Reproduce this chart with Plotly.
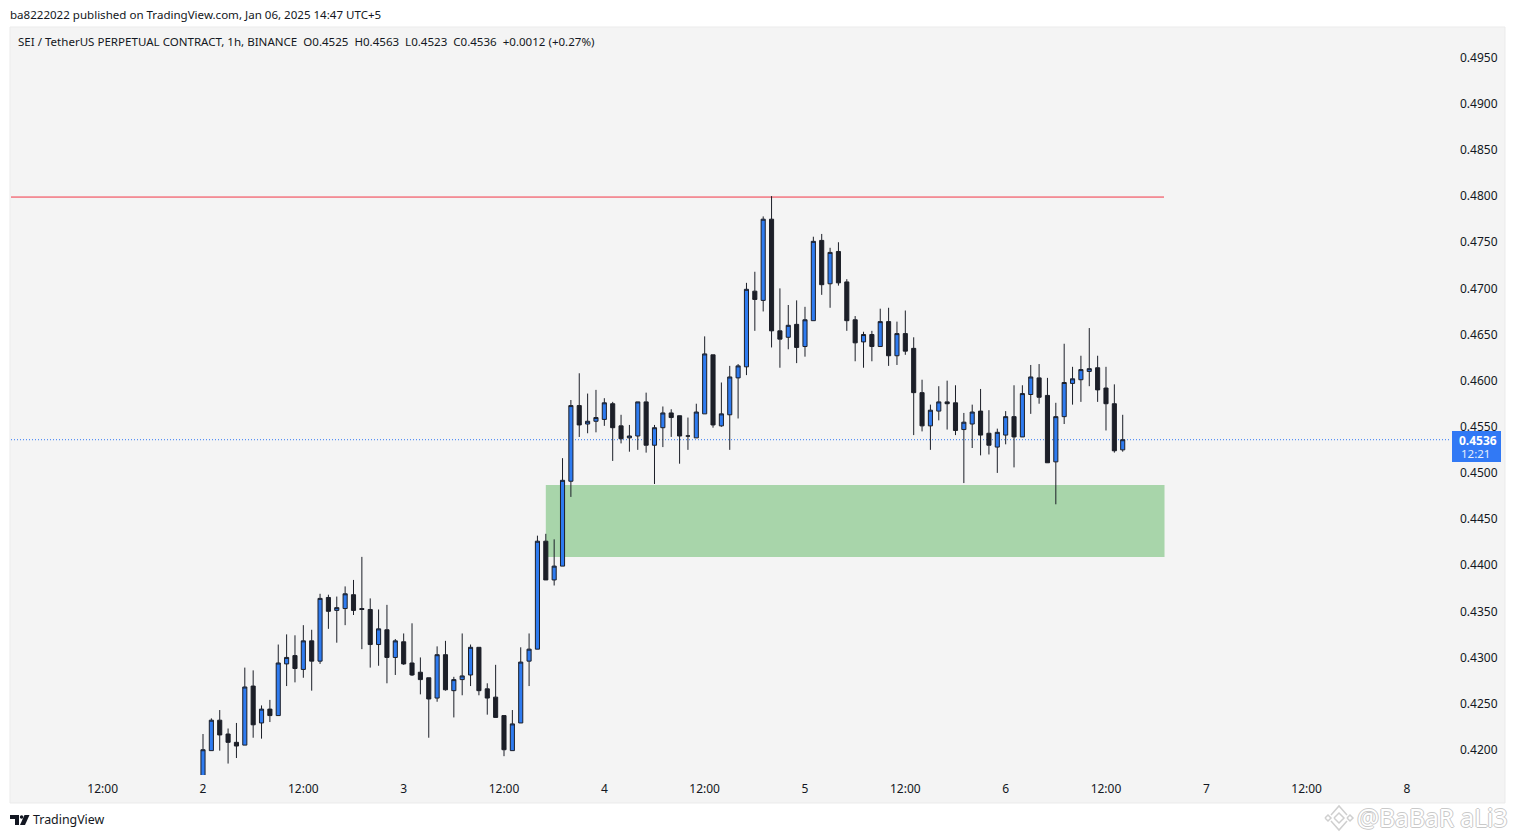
import pandas as pd
import plotly.graph_objects as go

# hourly candles, first one is Jan 2 00:00
opens = [.4172, .4199, .4232, .4217, .4208, .4205, .4269, .4229, .4244, .4237,
         .4293, .4302, .4287, .4318, .4296, .4365, .4351, .4353, .4368, .4353,
         .4352, .4314, .4330, .4300, .4317, .4294, .4284, .4278, .4256, .4303,
         .4264, .4276, .4281, .4311, .4266, .4257, .4237, .4199, .4229, .4296,
         .4309, .4426, .4384, .4399, .4491, .4573, .4553, .4556, .4558, .4575,
         .4551, .4538, .4540, .4577, .4530, .4549, .4565, .4562, .4540, .4538,
         .4564, .4628, .4551, .4563, .4603, .4615, .4697, .4687, .4775, .4654,
         .4647, .4661, .4637, .4665, .4752, .4705, .4740, .4707, .4666, .4642,
         .4650, .4637, .4664, .4627, .4651, .4635, .4587, .4551, .4567, .4577,
         .4576, .4547, .4553, .4567, .4543, .4528, .4541, .4561, .4539, .4585,
         .4603, .4584, .4512, .4561, .4597, .4601, .4610, .4614, .4592, .4575,
         .4525]
highs = [.4217, .4234, .4243, .4223, .4229, .4289, .4286, .4248, .4254, .4314,
         .4325, .4324, .4335, .4330, .4369, .4368, .4366, .4377, .4384, .4409,
         .4364, .4352, .4357, .4320, .4326, .4337, .4300, .4278, .4312, .4318,
         .4279, .4326, .4314, .4311, .4272, .4292, .4237, .4243, .4311, .4326,
         .4432, .4434, .4428, .4516, .4579, .4608, .4586, .4590, .4581, .4577,
         .4563, .4552, .4577, .4587, .4552, .4572, .4569, .4562, .4560, .4575,
         .4648, .4628, .4598, .4616, .4618, .4706, .4718, .4778, .4800, .4700,
         .4682, .4687, .4680, .4756, .4759, .4744, .4750, .4710, .4670, .4653,
         .4654, .4678, .4679, .4664, .4676, .4647, .4601, .4574, .4594, .4600,
         .4595, .4565, .4574, .4591, .4568, .4548, .4567, .4595, .4595, .4617,
         .4618, .4603, .4576, .4640, .4615, .4627, .4657, .4627, .4615, .4596,
         .4563]
lows = [.4165, .4199, .4199, .4185, .4191, .4205, .4213, .4212, .4230, .4237,
        .4269, .4273, .4278, .4264, .4293, .4331, .4316, .4335, .4346, .4309,
        .4289, .4291, .4272, .4281, .4292, .4280, .4260, .4213, .4252, .4264,
        .4235, .4259, .4269, .4259, .4238, .4235, .4193, .4199, .4229, .4269,
        .4309, .4384, .4378, .4399, .4474, .4539, .4543, .4544, .4551, .4513,
        .4532, .4523, .4525, .4522, .4488, .4528, .4539, .4510, .4525, .4538,
        .4564, .4549, .4550, .4525, .4559, .4606, .4654, .4675, .4636, .4614,
        .4634, .4619, .4626, .4665, .4693, .4679, .4703, .4654, .4621, .4614,
        .4621, .4637, .4616, .4617, .4628, .4541, .4545, .4525, .4557, .4547,
        .4541, .4489, .4527, .4519, .4520, .4500, .4531, .4506, .4539, .4564,
        .4575, .4511, .4466, .4553, .4574, .4577, .4594, .4577, .4546, .4522,
        .4523]
closes = [.4200, .4232, .4216, .4208, .4204, .4268, .4227, .4244, .4237, .4294,
          .4300, .4288, .4318, .4296, .4364, .4350, .4354, .4369, .4351, .4352,
          .4314, .4331, .4300, .4318, .4293, .4281, .4276, .4255, .4303, .4265,
          .4276, .4280, .4311, .4264, .4256, .4235, .4200, .4228, .4295, .4309,
          .4426, .4384, .4399, .4492, .4573, .4552, .4556, .4560, .4576, .4549,
          .4537, .4540, .4577, .4530, .4549, .4565, .4560, .4540, .4540, .4566,
          .4629, .4552, .4564, .4604, .4616, .4699, .4688, .4775, .4654, .4645,
          .4660, .4636, .4666, .4751, .4704, .4739, .4706, .4665, .4641, .4650,
          .4637, .4664, .4627, .4651, .4632, .4587, .4551, .4568, .4577, .4575,
          .4546, .4555, .4566, .4541, .4530, .4544, .4561, .4539, .4586, .4604,
          .4582, .4511, .4561, .4598, .4602, .4612, .4613, .4590, .4575, .4524,
          .4536]
times = pd.date_range("2025-01-02 00:00", periods=len(opens), freq="h")

price_ticks = [.42, .425, .43, .435, .44, .445, .45, .455, .46, .465, .47, .475, .48, .485, .49, .495]
time_ticks = ["2025-01-01 12:00", "2025-01-02 00:00", "2025-01-02 12:00", "2025-01-03 00:00",
              "2025-01-03 12:00", "2025-01-04 00:00", "2025-01-04 12:00", "2025-01-05 00:00",
              "2025-01-05 12:00", "2025-01-06 00:00", "2025-01-06 12:00", "2025-01-07 00:00",
              "2025-01-07 12:00", "2025-01-08 00:00"]
time_labels = ["12:00", "2", "12:00", "3", "12:00", "4", "12:00", "5",
               "12:00", "6", "12:00", "7", "12:00", "8"]

last_price = .4536
resistance = .4799
zone_top = .4487
zone_bottom = .4409
zone_start = "2025-01-03 17:00"
zone_end = "2025-01-06 19:00"

WIDTH, HEIGHT = 1515, 838
LEFT, RIGHT, TOP, BOTTOM = 11, 1451, 27, 775
FONT = "Noto Sans"
INK = "#131722"
CANDLE_LINE = "#1c1f28"
BLUE = "#2e7bf0"


def px(x):
    return (x - LEFT) / (RIGHT - LEFT)


def py(y):
    return (BOTTOM - y) / (BOTTOM - TOP)


def poly(points):
    return "M" + " L".join(f"{px(x)},{py(y)}" for x, y in points) + " Z"


def line(points):
    return "M" + " L".join(f"{px(x)},{py(y)}" for x, y in points)


def text(x, y, s, size=11.55, color=INK, anchor="left", **font):
    return dict(xref="paper", yref="paper", x=px(x), y=py(y), text=s, showarrow=False,
                xanchor=anchor, yanchor="middle", align=anchor,
                font=dict(family=FONT, size=size, color=color, **font))


fig = go.Figure(go.Candlestick(
    x=times, open=opens, high=highs, low=lows, close=closes,
    whiskerwidth=0, hoverinfo="skip",
    increasing=dict(line=dict(color=CANDLE_LINE, width=1), fillcolor=BLUE),
    decreasing=dict(line=dict(color=CANDLE_LINE, width=1), fillcolor=CANDLE_LINE),
))

shapes = [
    # panel behind everything
    dict(type="rect", xref="paper", yref="paper", x0=px(10), x1=px(1505), y0=py(803), y1=py(27),
         fillcolor="#f4f4f4", line=dict(color="#ebebeb", width=1), layer="below"),
    dict(type="rect", xref="x", yref="y", x0=zone_start, x1=zone_end, y0=zone_bottom, y1=zone_top,
         fillcolor="#a8d5aa", line=dict(width=0), layer="below"),
    dict(type="line", xref="paper", yref="y", x0=0, x1=px(1164), y0=resistance, y1=resistance,
         line=dict(color="#f23645", width=1), layer="below"),
    dict(type="line", xref="paper", yref="y", x0=0, x1=1, y0=last_price, y1=last_price,
         line=dict(color="#3179f5", width=1, dash="1px,2px"), layer="below"),
    # last price tag
    dict(type="rect", xref="paper", yref="paper", x0=px(1452), x1=px(1501), y0=py(462), y1=py(431),
         fillcolor="#3179f5", line=dict(width=0)),
    # TradingView logo
    dict(type="path", xref="paper", yref="paper", fillcolor=INK, line=dict(width=0),
         path=poly([(10, 815), (19, 815), (19, 825), (15, 825), (15, 819), (10, 819)])),
    dict(type="circle", xref="paper", yref="paper", fillcolor=INK, line=dict(width=0),
         x0=px(19.8), x1=px(23.4), y0=py(818.8), y1=py(815.2)),
    dict(type="path", xref="paper", yref="paper", fillcolor=INK, line=dict(width=0),
         path=poly([(24.5, 815), (29.5, 815), (25, 825), (20, 825)])),
]
# watermark icon, thin grey chevrons
for pts in [[(1331, 815), (1339, 806), (1347, 815)],
            [(1331, 821), (1339, 830), (1347, 821)],
            [(1334, 818), (1339, 813), (1344, 818), (1339, 823), (1334, 818)],
            [(1325, 818), (1328, 815), (1331, 818), (1328, 821), (1325, 818)],
            [(1347, 818), (1350, 815), (1353, 818), (1350, 821), (1347, 818)]]:
    shapes.append(dict(type="path", xref="paper", yref="paper", path=line(pts),
                       line=dict(color="#cfcfcf", width=1.5)))

outline = "1px 0 #c9c9c9, -1px 0 #c9c9c9, 0 1px #c9c9c9, 0 -1px #c9c9c9"
annotations = [
    text(8, 14, "ba8222022 published on TradingView.com, Jan 06, 2025 14:47 UTC+5"),
    text(16, 41.5, "SEI / TetherUS PERPETUAL CONTRACT, 1h, BINANCE\u00a0\u00a0O0.4525\u00a0\u00a0H0.4563\u00a0\u00a0L0.4523\u00a0\u00a0C0.4536\u00a0\u00a0+0.0012 (+0.27%)"),
    text(31, 820, "TradingView", size=12.4),
    text(1478, 440, "0.4536", size=12, color="white", anchor="center", weight="bold"),
    text(1475, 454, "12:21", size=11.5, color="#e6eefc", anchor="center"),
    text(1355, 817, "@BaBaR aLi3", size=24.6, color="white", shadow=outline),
]

fig.update_layout(
    width=WIDTH, height=HEIGHT,
    margin=dict(l=LEFT, r=WIDTH - RIGHT, t=TOP, b=HEIGHT - BOTTOM, pad=0),
    paper_bgcolor="white", plot_bgcolor="#f4f4f4",
    showlegend=False, shapes=shapes, annotations=annotations,
    font=dict(family=FONT, size=12, color=INK),
    xaxis=dict(
        type="date", range=[times[0] - pd.Timedelta(hours=(203 - LEFT) / 8.361),
                            times[0] + pd.Timedelta(hours=(RIGHT - 203) / 8.361)],
        tickmode="array", tickvals=time_ticks, ticktext=time_labels, tickangle=0,
        showgrid=False, zeroline=False, showline=False, ticks="",
        rangeslider=dict(visible=False), ticklabelstandoff=5,
        tickfont=dict(family=FONT, size=12, color=INK),
    ),
    yaxis=dict(
        side="right", range=[.41726, .49833],
        tickmode="array", tickvals=price_ticks, ticktext=[f"{p:.4f}" for p in price_ticks],
        showgrid=False, zeroline=False, showline=False, ticks="", ticklabelstandoff=8,
        tickfont=dict(family=FONT, size=12, color=INK),
    ),
)

fig.write_html("out.html", config={"displayModeBar": False},
               post_script="document.body.style.margin='0';")
